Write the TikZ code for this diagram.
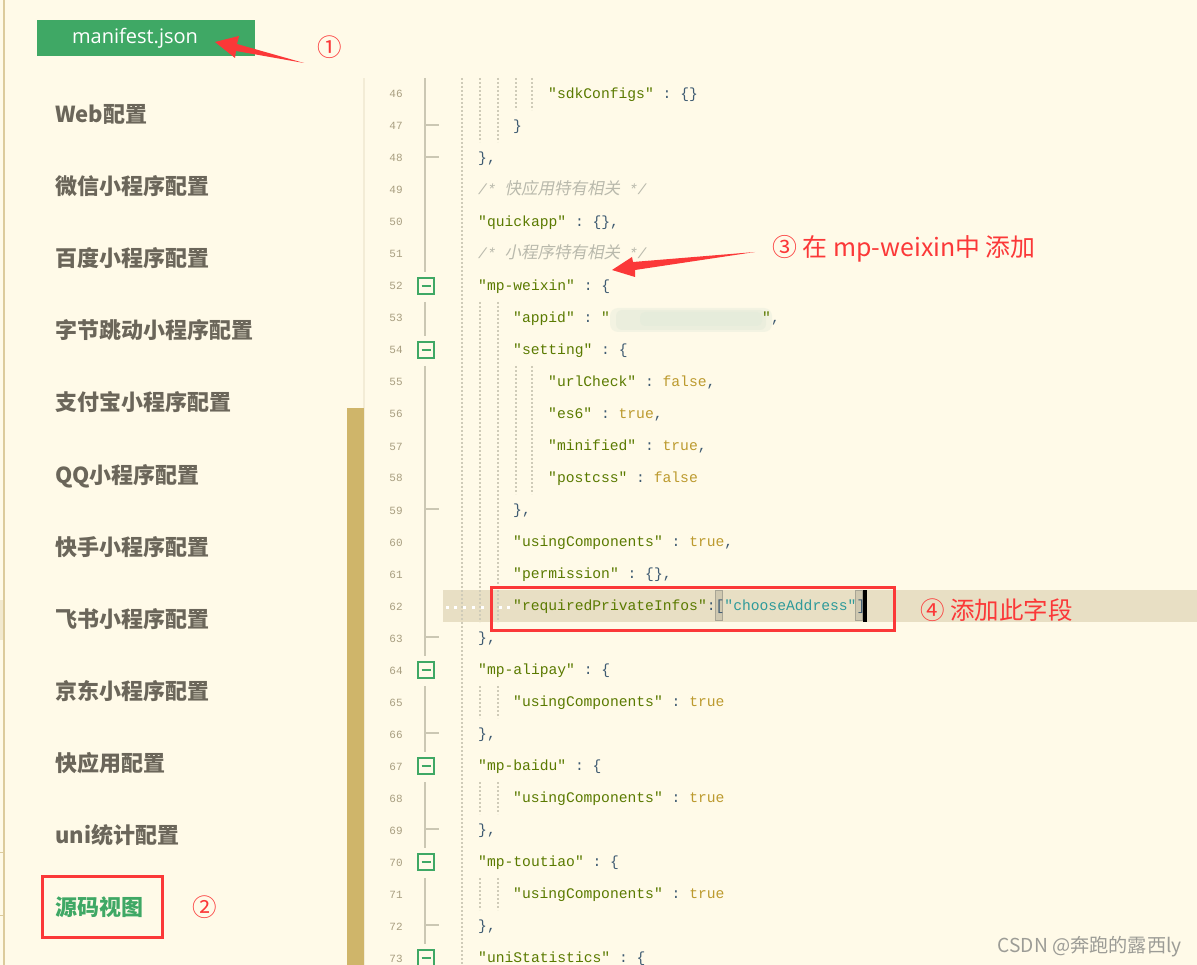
\documentclass[tikz,border=0pt]{standalone}
\usepackage{fontspec}
\setmainfont{Noto Sans CJK SC}
\newfontfamily\codefont{Liberation Mono}
\newfontfamily\cjkslant[FakeSlant=0.2]{Noto Sans CJK SC}
\newfontfamily\titlefont{Open Sans}
\definecolor{pagebg}{HTML}{FFFAE8}
\definecolor{edgetan}{HTML}{DCCB9C}
\definecolor{edgeshade}{HTML}{F2E9CF}
\definecolor{scrolltan}{HTML}{CFB56A}
\definecolor{dividerc}{HTML}{F3ECD6}
\definecolor{uigreen}{HTML}{3FA865}
\definecolor{sidegrey}{HTML}{6B665A}
\definecolor{marker}{HTML}{FB3838}
\definecolor{numc}{HTML}{A89E80}
\definecolor{gutterc}{HTML}{CBC7B3}
\definecolor{guidec}{HTML}{CFCBB8}
\definecolor{linehl}{HTML}{E8DFC4}
\definecolor{keyc}{HTML}{5A7A00}
\definecolor{punc}{HTML}{3F5B72}
\definecolor{valc}{HTML}{BC9A2E}
\definecolor{strc}{HTML}{2E9A9A}
\definecolor{commc}{HTML}{B9B9AC}
\definecolor{markc}{HTML}{CFC8B0}
\definecolor{markedge}{HTML}{A8A595}
\definecolor{blurc}{HTML}{E6ECDB}
\definecolor{wmarkc}{HTML}{9C9C96}
\tikzset{
	sideitem/.style={anchor=base west, inner sep=0pt, text=sidegrey, font=\fontsize{22}{22}\selectfont\bfseries},
	linenum/.style={anchor=base, inner sep=0pt, text=numc, font=\codefont\fontsize{11}{11}\selectfont},
	codeline/.style={anchor=base west, inner sep=0pt, font=\codefont\fontsize{14.67}{16}\selectfont},
	redbox/.style={draw=marker, line width=3pt, inner sep=0pt},
	redtext/.style={anchor=base west, inner sep=0pt, text=marker, font=\fontsize{24.5}{24}\selectfont},
	foldbox/.style={draw=uigreen, line width=1.8pt, fill=pagebg, minimum size=16pt, inner sep=0pt},
	guide/.style={guidec, line width=1.6pt, dash pattern=on 2pt off 2pt},
	bracket/.style={fill=markc, draw=markedge, line width=1pt}
}
\newcommand{\cell}{\hspace{8.8pt}}
\newcommand{\key}[1]{\textcolor{keyc}{#1}}
\newcommand{\pun}[1]{\textcolor{punc}{#1}}
\newcommand{\val}[1]{\textcolor{valc}{#1}}
\newcommand{\sep}{\cell\pun{:}\cell}
\newcommand{\comm}[1]{\textcolor{commc}{\itshape /*\cell{\cjkslant\fontsize{16.5}{16}\selectfont #1}\cell*/}}
\begin{document}
\begin{tikzpicture}[x=1pt, y=-1pt]
	\useasboundingbox (0, 0) rectangle (1197, 965);
	\fill[pagebg] (0, 0) rectangle (1197, 965);

	% left edge, divider, scrollbar
	\fill[edgeshade] (0, 600) rectangle (3, 640);
	\fill[edgetan] (3, 0) rectangle (5, 965);
	\fill[edgetan] (0, 852) rectangle (3, 853);
	\fill[edgetan] (0, 915) rectangle (3, 916);
	\fill[dividerc] (363, 78) rectangle (365, 965);
	\fill[scrolltan] (347, 408) rectangle (364, 965);

	% title bar
	\node[fill=uigreen, minimum width=218pt, minimum height=36pt, inner sep=0pt, text=white, font=\titlefont\fontsize{20}{20}\selectfont] (manifest) at (146, 38) {\hspace*{-22pt}\raisebox{-2.5pt}{manifest.json}};

	% sidebar
	\foreach \i/\label in {0/Web配置, 1/微信小程序配置, 2/百度小程序配置, 3/字节跳动小程序配置, 4/支付宝小程序配置, 5/QQ小程序配置, 6/快手小程序配置, 7/飞书小程序配置, 8/京东小程序配置, 9/快应用配置, 10/uni统计配置} {
		\node[sideitem] (side\i) at (55, 123 + 72 * \i) {\label};
	}
	\node[sideitem, text=uigreen] (sourceview) at (55, 915) {源码视图};
	\node[redbox, minimum width=120pt, minimum height=61pt] (sourcebox) at (102.5, 906.5) {};

	% current line
	\fill[linehl] (443, 590) rectangle (1197, 622);
	\draw[bracket] (715.5, 590.5) rectangle (722.5, 620.5);
	\draw[bracket] (855.5, 590.5) rectangle (862.5, 620.5);
	\fill[black] (863, 590) rectangle (867, 622);

	% indent guides
	\draw[guide] (462, 78) -- (462, 965);
	\draw[guide] (480, 78) -- (480, 142);
	\draw[guide] (498, 78) -- (498, 142);
	\draw[guide] (516, 78) -- (516, 110);
	\draw[guide] (532, 78) -- (532, 110);
	\draw[guide] (480, 302) -- (480, 622);
	\draw[guide] (498, 302) -- (498, 622);
	\draw[guide] (516, 366) -- (516, 494);
	\draw[guide] (532, 366) -- (532, 494);
	\foreach \ya/\yb in {686/718, 782/814, 878/910} {
		\draw[guide] (480, \ya) -- (480, \yb);
		\draw[guide] (498, \ya) -- (498, \yb);
	}

	% whitespace dots
	\foreach \x in {447, 455, 464, 473, 482, 491, 500, 508} {
		\fill[white] (\x - 1.5, 605.5) rectangle (\x + 1.5, 609);
	}

	% fold gutter
	\foreach \ya/\yb in {78/272, 302/336, 366/656, 686/752, 782/848, 878/944} {
		\draw[gutterc, line width=2pt] (425, \ya) -- (425, \yb);
	}
	\foreach \n in {47, 48, 59, 63, 66, 69, 72} {
		\draw[gutterc, line width=1.5pt] (425, 93 + 32 * \n - 32 * 46) -- (439, 93 + 32 * \n - 32 * 46);
	}
	\foreach \n in {52, 54, 64, 67, 70, 73} {
		\node[foldbox] (fold\n) at (426, 94 + 32 * \n - 32 * 46) {};
		\draw[uigreen, line width=1.8pt] ([xshift=-4.5pt]fold\n.center) -- ([xshift=4.5pt]fold\n.center);
	}

	% line numbers
	\foreach \n in {46, ..., 73} {
		\node[linenum] (num\n) at (396, 98 + 32 * \n - 32 * 46) {\n};
	}

	% source
	\foreach \n/\lvl/\code in {
		46/2/{\key{"sdkConfigs"}\sep\pun{\{\}}},
		47/1/{\pun{\}}},
		48/0/{\pun{\},}},
		49/0/{\comm{快应用特有相关}},
		50/0/{\key{"quickapp"}\sep\pun{\{\},}},
		51/0/{\comm{小程序特有相关}},
		52/0/{\key{"mp-weixin"}\sep\pun{\{}},
		54/1/{\key{"setting"}\sep\pun{\{}},
		55/2/{\key{"urlCheck"}\sep\val{false}\pun{,}},
		56/2/{\key{"es6"}\sep\val{true}\pun{,}},
		57/2/{\key{"minified"}\sep\val{true}\pun{,}},
		58/2/{\key{"postcss"}\sep\val{false}},
		59/1/{\pun{\},}},
		60/1/{\key{"usingComponents"}\sep\val{true}\pun{,}},
		61/1/{\key{"permission"}\sep\pun{\{\},}},
		62/1/{\key{"requiredPrivateInfos"}\pun{:[}\textcolor{strc}{"chooseAddress"}\pun{]}},
		63/0/{\pun{\},}},
		64/0/{\key{"mp-alipay"}\sep\pun{\{}},
		65/1/{\key{"usingComponents"}\sep\val{true}},
		66/0/{\pun{\},}},
		67/0/{\key{"mp-baidu"}\sep\pun{\{}},
		68/1/{\key{"usingComponents"}\sep\val{true}},
		69/0/{\pun{\},}},
		70/0/{\key{"mp-toutiao"}\sep\pun{\{}},
		71/1/{\key{"usingComponents"}\sep\val{true}},
		72/0/{\pun{\},}},
		73/0/{\key{"uniStatistics"}\sep\pun{\{}}
	} {
		\node[codeline] (code\n) at (478 + 35 * \lvl, 98.5 + 32 * \n - 32 * 46) {\code};
	}

	% appid, value blurred out
	\node[codeline] (code53) at (513, 322.5) {\key{"appid"}\sep\key{"}};
	\fill[blurc, opacity=.45, rounded corners=8pt] (610, 308) rectangle (772, 332);
	\fill[blurc, opacity=.6, rounded corners=6pt] (616, 310) rectangle (766, 330);
	\fill[blurc, rounded corners=5pt] (640, 312) rectangle (762, 326);
	\node[codeline] (code53b) at (762, 322.5) {\key{"}\pun{,}};

	% markers
	\node[redbox, minimum width=403pt, minimum height=43pt] (newfield) at (693, 608.5) {};
	\node[redtext] (mark1) at (317, 57) {①};
	\node[redtext] (mark2) at (192, 916) {②};
	\node[redtext, font=\fontsize{24.9}{24}\selectfont] (mark3) at (772, 257) {③ 在 mp-weixin中 添加};
	\node[redtext] (mark4) at (920, 619) {④ 添加此字段};

	% \redarrow#tip#barb#notch#tail#notch#barb
	\def\redarrow#1#2#3#4#5#6{
		\fill[marker] #1 -- #2 -- #3 -- #4 -- #5 -- #6 -- cycle;
	}
	\redarrow{(215, 42)}{(239, 36)}{(237, 44)}{(304, 63)}{(236, 51)}{(235, 58)}
	\redarrow{(612, 270)}{(632, 257)}{(633, 262)}{(755, 252)}{(635, 270)}{(635, 277)}

	% watermark
	\node[anchor=base east, inner sep=0pt, text=wmarkc, font=\fontsize{19.2}{19}\selectfont] (wmark) at (1182, 952) {CSDN @奔跑的露西ly};
\end{tikzpicture}
\end{document}
